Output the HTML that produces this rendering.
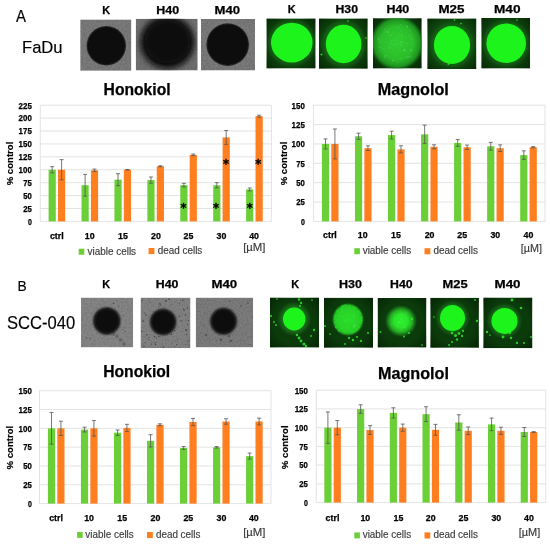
<!DOCTYPE html>
<html lang="en"><head><meta charset="utf-8"><title>Figure</title>
<style>
html,body{margin:0;padding:0;background:#fff;}
body{width:550px;height:545px;overflow:hidden;}
svg{display:block;font-family:"Liberation Sans",sans-serif;}
</style></head><body>
<svg width="550" height="545" viewBox="0 0 550 545">
<defs>
<filter id="noise" x="0" y="0" width="100%" height="100%">
  <feTurbulence type="fractalNoise" baseFrequency="0.55" numOctaves="2" seed="3" result="t"/>
  <feColorMatrix in="t" type="matrix" values="0 0 0 0 0  0 0 0 0 0  0 0 0 0 0  0.9 0 0 0 -0.35" result="a"/>
  <feComposite in="a" in2="SourceGraphic" operator="in"/>
</filter>
<filter id="b1" x="-20%" y="-20%" width="140%" height="140%"><feGaussianBlur stdDeviation="0.7"/></filter>
<filter id="b15" x="-20%" y="-20%" width="140%" height="140%"><feGaussianBlur stdDeviation="1.1"/></filter>
<filter id="b2" x="-30%" y="-30%" width="160%" height="160%"><feGaussianBlur stdDeviation="1.6"/></filter>
<filter id="b3" x="-40%" y="-40%" width="180%" height="180%"><feGaussianBlur stdDeviation="3.2"/></filter>
<filter id="speck" x="0" y="0" width="100%" height="100%">
  <feTurbulence type="fractalNoise" baseFrequency="0.32" numOctaves="2" seed="11" result="t"/>
  <feColorMatrix in="t" type="matrix" values="0 0 0 0 0.45  0 0 0 0 1  0 0 0 0 0.45  0 4 0 0 -2.45" result="a"/>
  <feComposite in="a" in2="SourceGraphic" operator="in"/>
</filter>
<radialGradient id="vig" r="0.72"><stop offset="0.6" stop-color="#041c04" stop-opacity="0"/><stop offset="1" stop-color="#041c04" stop-opacity="0.75"/></radialGradient>
<radialGradient id="halo"><stop offset="0.65" stop-color="#1b741b" stop-opacity="1"/><stop offset="1" stop-color="#1b741b" stop-opacity="0"/></radialGradient>
<radialGradient id="texg"><stop offset="0" stop-color="#30cc30"/><stop offset="0.6" stop-color="#2bbe2b"/><stop offset="0.85" stop-color="#209820" stop-opacity="0.95"/><stop offset="1" stop-color="#167016" stop-opacity="0"/></radialGradient>
<radialGradient id="blobg"><stop offset="0" stop-color="#2ade2a"/><stop offset="0.7" stop-color="#27d227"/><stop offset="0.88" stop-color="#22b422" stop-opacity="0.95"/><stop offset="1" stop-color="#1a801a" stop-opacity="0"/></radialGradient>
<radialGradient id="fuzzg"><stop offset="0" stop-color="#2cf02c"/><stop offset="0.45" stop-color="#2ae42a"/><stop offset="0.72" stop-color="#24b424" stop-opacity="0.9"/><stop offset="1" stop-color="#1a801a" stop-opacity="0"/></radialGradient>
<radialGradient id="gbg"><stop offset="0" stop-color="#1a6a1a"/><stop offset="0.7" stop-color="#0f4a10"/><stop offset="1" stop-color="#092f0a"/></radialGradient>
<radialGradient id="gsph"><stop offset="0" stop-color="#33f233"/><stop offset="0.85" stop-color="#2ff52f"/><stop offset="1" stop-color="#25d525"/></radialGradient>
</defs>
<rect width="550" height="545" fill="#fff"/>

<text x="15.9" y="21.5" font-size="16.2" font-weight="normal" text-anchor="start" fill="#000000" stroke="#000000" stroke-width="0.15" textLength="10.0" lengthAdjust="spacingAndGlyphs">A</text>
<text x="22.0" y="52.7" font-size="16.2" font-weight="normal" text-anchor="start" fill="#000000" stroke="#000000" stroke-width="0.15" textLength="40.6" lengthAdjust="spacingAndGlyphs">FaDu</text>
<text x="17.4" y="290.6" font-size="15.4" font-weight="normal" text-anchor="start" fill="#000000" stroke="#000000" stroke-width="0.15" textLength="9.2" lengthAdjust="spacingAndGlyphs">B</text>
<text x="7.0" y="328.5" font-size="19.2" font-weight="normal" text-anchor="start" fill="#000000" stroke="#000000" stroke-width="0.15" textLength="68.2" lengthAdjust="spacingAndGlyphs">SCC-040</text>
<text x="106.3" y="14.0" font-size="10.9" font-weight="bold" text-anchor="middle" fill="#000000" stroke="#000000" stroke-width="0.25">K</text>
<text x="156.2" y="14.0" font-size="11.3" font-weight="bold" text-anchor="start" fill="#000000" stroke="#000000" stroke-width="0.25" textLength="22.9" lengthAdjust="spacingAndGlyphs">H40</text>
<text x="214.5" y="14.0" font-size="11.3" font-weight="bold" text-anchor="start" fill="#000000" stroke="#000000" stroke-width="0.25" textLength="25.5" lengthAdjust="spacingAndGlyphs">M40</text>
<text x="291.6" y="12.7" font-size="10.9" font-weight="bold" text-anchor="middle" fill="#000000" stroke="#000000" stroke-width="0.25">K</text>
<text x="335.5" y="12.5" font-size="11.3" font-weight="bold" text-anchor="start" fill="#000000" stroke="#000000" stroke-width="0.25" textLength="22.5" lengthAdjust="spacingAndGlyphs">H30</text>
<text x="386.4" y="12.5" font-size="11.3" font-weight="bold" text-anchor="start" fill="#000000" stroke="#000000" stroke-width="0.25" textLength="22.9" lengthAdjust="spacingAndGlyphs">H40</text>
<text x="438.4" y="12.5" font-size="11.3" font-weight="bold" text-anchor="start" fill="#000000" stroke="#000000" stroke-width="0.25" textLength="26.0" lengthAdjust="spacingAndGlyphs">M25</text>
<text x="494.0" y="12.5" font-size="11.3" font-weight="bold" text-anchor="start" fill="#000000" stroke="#000000" stroke-width="0.25" textLength="26.5" lengthAdjust="spacingAndGlyphs">M40</text>
<text x="106.3" y="288.3" font-size="10.9" font-weight="bold" text-anchor="middle" fill="#000000" stroke="#000000" stroke-width="0.25">K</text>
<text x="155.8" y="288.4" font-size="11.3" font-weight="bold" text-anchor="start" fill="#000000" stroke="#000000" stroke-width="0.25" textLength="22.7" lengthAdjust="spacingAndGlyphs">H40</text>
<text x="211.4" y="288.4" font-size="11.3" font-weight="bold" text-anchor="start" fill="#000000" stroke="#000000" stroke-width="0.25" textLength="25.8" lengthAdjust="spacingAndGlyphs">M40</text>
<text x="295.3" y="287.9" font-size="10.9" font-weight="bold" text-anchor="middle" fill="#000000" stroke="#000000" stroke-width="0.25">K</text>
<text x="339.0" y="287.9" font-size="11.3" font-weight="bold" text-anchor="start" fill="#000000" stroke="#000000" stroke-width="0.25" textLength="22.9" lengthAdjust="spacingAndGlyphs">H30</text>
<text x="390.0" y="287.9" font-size="11.3" font-weight="bold" text-anchor="start" fill="#000000" stroke="#000000" stroke-width="0.25" textLength="22.6" lengthAdjust="spacingAndGlyphs">H40</text>
<text x="442.5" y="287.9" font-size="11.3" font-weight="bold" text-anchor="start" fill="#000000" stroke="#000000" stroke-width="0.25" textLength="25.1" lengthAdjust="spacingAndGlyphs">M25</text>
<text x="494.5" y="287.8" font-size="11.3" font-weight="bold" text-anchor="start" fill="#000000" stroke="#000000" stroke-width="0.25" textLength="26.0" lengthAdjust="spacingAndGlyphs">M40</text>
<clipPath id="ca1"><rect x="80.2" y="19.4" width="51.2" height="51.4"/></clipPath>
<g clip-path="url(#ca1)">
<rect x="80.2" y="19.4" width="51.2" height="51.4" fill="#7a7a7a"/>
<rect x="80.2" y="19.4" width="51.2" height="51.4" fill="#555555" filter="url(#noise)" opacity="0.32"/>
<circle cx="106.3" cy="45.8" r="19.7" fill="#262626" filter="url(#b1)"/>
<circle cx="106.3" cy="45.8" r="18.7" fill="#111111" filter="url(#b1)"/>
</g>
<clipPath id="ca2"><rect x="135.7" y="18.8" width="62.0" height="51.7"/></clipPath>
<g clip-path="url(#ca2)">
<rect x="135.7" y="18.8" width="62.0" height="51.7" fill="#707070"/>
<rect x="135.7" y="18.8" width="62.0" height="51.7" fill="#555555" filter="url(#noise)" opacity="0.32"/>
<ellipse cx="167.2" cy="42.5" rx="26.5" ry="26.0" fill="#0a0a0a" filter="url(#b3)"/>
<ellipse cx="167.7" cy="41.5" rx="23.0" ry="22.0" fill="#0a0a0a" filter="url(#b3)"/>
</g>
<clipPath id="ca3"><rect x="201.0" y="18.9" width="54.0" height="51.6"/></clipPath>
<g clip-path="url(#ca3)">
<rect x="201.0" y="18.9" width="54.0" height="51.6" fill="#7a7a7a"/>
<rect x="201.0" y="18.9" width="54.0" height="51.6" fill="#555555" filter="url(#noise)" opacity="0.32"/>
<circle cx="227.7" cy="44.6" r="21.3" fill="#262626" filter="url(#b1)"/>
<circle cx="227.7" cy="44.6" r="20.3" fill="#111111" filter="url(#b1)"/>
</g>
<clipPath id="cb1"><rect x="81.0" y="297.6" width="52.2" height="49.8"/></clipPath>
<g clip-path="url(#cb1)">
<rect x="81.0" y="297.6" width="52.2" height="49.8" fill="#858585"/>
<rect x="81.0" y="297.6" width="52.2" height="49.8" fill="#555555" filter="url(#noise)" opacity="0.32"/>
<g fill="#1a1a1a"><circle cx="122.8" cy="329.4" r="0.56" opacity="0.4"/><circle cx="99.4" cy="329.3" r="0.55" opacity="0.4"/><circle cx="123.4" cy="315.5" r="0.57" opacity="0.4"/><circle cx="125.5" cy="331.4" r="0.6" opacity="0.4"/><circle cx="129.8" cy="323.4" r="0.51" opacity="0.4"/><circle cx="90.3" cy="338.3" r="0.59" opacity="0.4"/><circle cx="105.9" cy="331.5" r="0.54" opacity="0.4"/><circle cx="118.5" cy="307.1" r="0.56" opacity="0.4"/><circle cx="111.0" cy="330.3" r="0.48" opacity="0.4"/><circle cx="113.2" cy="335.4" r="0.53" opacity="0.4"/><circle cx="118.0" cy="300.3" r="0.43" opacity="0.4"/><circle cx="104.1" cy="329.6" r="0.44" opacity="0.4"/><circle cx="116.3" cy="328.7" r="0.41" opacity="0.4"/><circle cx="105.6" cy="309.6" r="0.41" opacity="0.4"/><circle cx="117" cy="336" r="1.6" opacity="0.3"/><circle cx="120.5" cy="340" r="1.8" opacity="0.3"/><circle cx="124" cy="344" r="1.8" opacity="0.3"/><circle cx="114" cy="333.5" r="1.4" opacity="0.3"/><circle cx="113.5" cy="303.5" r="0.8" opacity="0.6"/><circle cx="94" cy="321" r="0.6" opacity="0.5"/><circle cx="87" cy="338" r="0.7" opacity="0.4"/></g>
<circle cx="106.8" cy="320.9" r="13.5" fill="#262626" filter="url(#b15)"/>
<circle cx="106.8" cy="320.9" r="12.5" fill="#0e0e0e" filter="url(#b15)"/>
</g>
<clipPath id="cb2"><rect x="140.5" y="297.6" width="50.0" height="50.6"/></clipPath>
<g clip-path="url(#cb2)">
<rect x="140.5" y="297.6" width="50.0" height="50.6" fill="#828282"/>
<rect x="140.5" y="297.6" width="50.0" height="50.6" fill="#555555" filter="url(#noise)" opacity="0.32"/>
<g fill="#1a1a1a"><circle cx="171.4" cy="334.5" r="0.73" opacity="0.55"/><circle cx="186.7" cy="334.4" r="0.77" opacity="0.55"/><circle cx="142.9" cy="321.1" r="0.78" opacity="0.55"/><circle cx="172.7" cy="342.2" r="0.49" opacity="0.55"/><circle cx="169.0" cy="299.1" r="0.53" opacity="0.55"/><circle cx="154.9" cy="342.9" r="0.72" opacity="0.55"/><circle cx="149.2" cy="337.2" r="0.5" opacity="0.55"/><circle cx="171.1" cy="304.6" r="0.45" opacity="0.55"/><circle cx="183.3" cy="308.7" r="0.53" opacity="0.55"/><circle cx="188.7" cy="340.8" r="0.55" opacity="0.55"/><circle cx="187.7" cy="324.7" r="0.69" opacity="0.55"/><circle cx="151.3" cy="344.1" r="0.69" opacity="0.55"/><circle cx="187.9" cy="341.8" r="0.55" opacity="0.55"/><circle cx="158.8" cy="306.5" r="0.5" opacity="0.55"/><circle cx="144.6" cy="313.1" r="0.66" opacity="0.55"/><circle cx="141.7" cy="331.4" r="0.57" opacity="0.55"/><circle cx="156.4" cy="338.2" r="0.62" opacity="0.55"/><circle cx="144.2" cy="345.8" r="0.46" opacity="0.55"/><circle cx="177.5" cy="339.5" r="0.46" opacity="0.55"/><circle cx="179.3" cy="316.3" r="0.65" opacity="0.55"/><circle cx="141.9" cy="300.8" r="0.51" opacity="0.55"/><circle cx="187.3" cy="308.0" r="0.71" opacity="0.55"/><circle cx="186.1" cy="344.2" r="0.57" opacity="0.55"/><circle cx="146.7" cy="334.8" r="0.73" opacity="0.55"/><circle cx="182.8" cy="300.3" r="0.78" opacity="0.55"/><circle cx="145.9" cy="315.0" r="0.66" opacity="0.55"/><circle cx="185.6" cy="315.0" r="0.77" opacity="0.55"/><circle cx="150.0" cy="302.3" r="0.5" opacity="0.55"/><circle cx="174.6" cy="346.8" r="0.51" opacity="0.55"/><circle cx="143.8" cy="346.4" r="0.64" opacity="0.55"/><circle cx="181.2" cy="320.6" r="0.6" opacity="0.55"/><circle cx="144.2" cy="342.9" r="0.46" opacity="0.55"/><circle cx="165.2" cy="339.2" r="0.5" opacity="0.55"/><circle cx="176.6" cy="344.6" r="0.67" opacity="0.55"/><circle cx="179.3" cy="303.7" r="0.6" opacity="0.55"/><circle cx="148.7" cy="339.5" r="0.55" opacity="0.55"/><circle cx="163.3" cy="347.0" r="0.75" opacity="0.55"/><circle cx="188.3" cy="320.5" r="0.62" opacity="0.55"/><circle cx="160.9" cy="305.6" r="0.58" opacity="0.55"/><circle cx="188.9" cy="345.1" r="0.67" opacity="0.55"/><circle cx="154.6" cy="336.4" r="0.75" opacity="0.55"/><circle cx="158.8" cy="336.6" r="0.72" opacity="0.55"/><circle cx="174.8" cy="330.7" r="0.72" opacity="0.55"/><circle cx="155.6" cy="344.4" r="0.68" opacity="0.55"/><circle cx="169.4" cy="299.1" r="0.64" opacity="0.55"/><circle cx="166" cy="301" r="1.0" opacity="0.5"/><circle cx="160" cy="304" r="0.9" opacity="0.5"/><circle cx="184" cy="310" r="0.8" opacity="0.6"/><circle cx="186" cy="330" r="0.9" opacity="0.6"/></g>
<circle cx="163.1" cy="322.0" r="13.0" fill="#262626" filter="url(#b15)"/>
<circle cx="163.1" cy="322.0" r="12.0" fill="#0e0e0e" filter="url(#b15)"/>
</g>
<clipPath id="cb3"><rect x="195.7" y="297.6" width="57.5" height="49.8"/></clipPath>
<g clip-path="url(#cb3)">
<rect x="195.7" y="297.6" width="57.5" height="49.8" fill="#7c7c7c"/>
<rect x="195.7" y="297.6" width="57.5" height="49.8" fill="#555555" filter="url(#noise)" opacity="0.32"/>
<g fill="#1a1a1a"><circle cx="204.3" cy="313.9" r="0.44" opacity="0.35"/><circle cx="207.6" cy="300.7" r="0.49" opacity="0.35"/><circle cx="217.9" cy="327.8" r="0.52" opacity="0.35"/><circle cx="210.1" cy="341.4" r="0.4" opacity="0.35"/><circle cx="219.3" cy="312.1" r="0.48" opacity="0.35"/><circle cx="203.3" cy="338.1" r="0.47" opacity="0.35"/><circle cx="199.0" cy="327.8" r="0.42" opacity="0.35"/><circle cx="227.0" cy="315.0" r="0.52" opacity="0.35"/><circle cx="249.7" cy="337.5" r="0.48" opacity="0.35"/><circle cx="241.7" cy="329.2" r="0.47" opacity="0.35"/><circle cx="204.8" cy="327.0" r="0.51" opacity="0.35"/><circle cx="249.6" cy="344.5" r="0.52" opacity="0.35"/><circle cx="216.3" cy="341.0" r="0.4" opacity="0.35"/><circle cx="202.9" cy="325.6" r="0.52" opacity="0.35"/><circle cx="206" cy="335" r="1.2" opacity="0.35"/><circle cx="221" cy="340" r="1.4" opacity="0.35"/><circle cx="229" cy="336" r="1.2" opacity="0.35"/><circle cx="231" cy="341" r="1.2" opacity="0.35"/><circle cx="241" cy="306" r="1.0" opacity="0.3"/><circle cx="248" cy="303" r="0.9" opacity="0.3"/><circle cx="230" cy="301" r="1.0" opacity="0.3"/></g>
<circle cx="223.5" cy="321.3" r="13.2" fill="#262626" filter="url(#b15)"/>
<circle cx="223.5" cy="321.3" r="12.2" fill="#0e0e0e" filter="url(#b15)"/>
</g>
<clipPath id="cg1"><rect x="266.4" y="18.4" width="49.2" height="50.1"/></clipPath>
<g clip-path="url(#cg1)">
<rect x="266.4" y="18.4" width="49.2" height="50.1" fill="#0d420d"/>
<rect x="266.4" y="18.4" width="49.2" height="50.1" fill="url(#vig)"/>
<ellipse cx="291.8" cy="42.6" rx="25.8" ry="24.8" fill="url(#halo)"/>
<ellipse cx="291.8" cy="42.6" rx="20.8" ry="19.8" fill="#1ef41e" filter="url(#b1)"/>
</g>
<clipPath id="cg2"><rect x="318.9" y="18.4" width="48.8" height="50.3"/></clipPath>
<g clip-path="url(#cg2)">
<rect x="318.9" y="18.4" width="48.8" height="50.3" fill="#0d420d"/>
<rect x="318.9" y="18.4" width="48.8" height="50.3" fill="url(#vig)"/>
<ellipse cx="343.6" cy="44.0" rx="23.8" ry="25.2" fill="url(#halo)"/>
<ellipse cx="343.6" cy="44.0" rx="17.8" ry="19.2" fill="#1ef41e" filter="url(#b1)"/>
<g fill="#2fe82f" opacity="0.85"><circle cx="321.5" cy="54.5" r="1.05"/><circle cx="348" cy="21" r="0.85"/><circle cx="366" cy="38" r="0.85"/></g>
</g>
<clipPath id="cg3"><rect x="373.0" y="18.2" width="48.7" height="50.3"/></clipPath>
<g clip-path="url(#cg3)">
<rect x="373.0" y="18.2" width="48.7" height="50.3" fill="#0d420d"/>
<rect x="373.0" y="18.2" width="48.7" height="50.3" fill="url(#vig)"/>
<ellipse cx="397.0" cy="43.0" rx="27.0" ry="27.5" fill="url(#halo)"/>
<ellipse cx="397.0" cy="43.0" rx="27.0" ry="27.5" fill="url(#texg)"/>
<g filter="url(#b1)" opacity="0.3"><ellipse cx="397.0" cy="43.0" rx="20.0" ry="20.5" fill="#7cff7c" filter="url(#speck)"/></g>
</g>
<clipPath id="cg4"><rect x="427.3" y="18.4" width="49.1" height="50.6"/></clipPath>
<g clip-path="url(#cg4)">
<rect x="427.3" y="18.4" width="49.1" height="50.6" fill="#0f480f"/>
<rect x="427.3" y="18.4" width="49.1" height="50.6" fill="url(#vig)"/>
<ellipse cx="452.0" cy="45.0" rx="23.1" ry="24.0" fill="url(#halo)"/>
<ellipse cx="452.0" cy="45.0" rx="18.1" ry="19.0" fill="#1ef41e" filter="url(#b1)"/>
<g fill="#2fe82f" opacity="0.85"><circle cx="454.5" cy="20" r="0.85"/><circle cx="461" cy="23.5" r="0.85"/><circle cx="448.5" cy="64" r="1.05"/></g>
</g>
<clipPath id="cg5"><rect x="481.3" y="18.0" width="48.8" height="50.5"/></clipPath>
<g clip-path="url(#cg5)">
<rect x="481.3" y="18.0" width="48.8" height="50.5" fill="#0e440e"/>
<rect x="481.3" y="18.0" width="48.8" height="50.5" fill="url(#vig)"/>
<ellipse cx="506.2" cy="43.3" rx="24.8" ry="24.7" fill="url(#halo)"/>
<ellipse cx="506.2" cy="43.3" rx="19.8" ry="19.7" fill="#1ef41e" filter="url(#b1)"/>
<g fill="#2fe82f" opacity="0.85"><circle cx="517" cy="20" r="0.85"/></g>
</g>
<clipPath id="ch1"><rect x="270.0" y="297.6" width="49.0" height="50.0"/></clipPath>
<g clip-path="url(#ch1)">
<rect x="270.0" y="297.6" width="49.0" height="50.0" fill="#0b3a0b"/>
<rect x="270.0" y="297.6" width="49.0" height="50.0" fill="url(#vig)"/>
<ellipse cx="294.2" cy="319.0" rx="17.2" ry="17.4" fill="url(#halo)"/>
<ellipse cx="294.2" cy="319.0" rx="11.2" ry="11.4" fill="#1ef41e" filter="url(#b1)"/>
<g fill="#2fe82f" opacity="0.85"><circle cx="299" cy="299.5" r="1.25"/><circle cx="301" cy="303" r="1.15"/><circle cx="300" cy="306" r="1.05"/><circle cx="297" cy="335" r="1.25"/><circle cx="299" cy="338" r="1.45"/><circle cx="301" cy="341" r="1.45"/><circle cx="304" cy="344" r="1.55"/><circle cx="306" cy="346" r="1.25"/><circle cx="271" cy="316" r="1.05"/><circle cx="274" cy="322" r="0.95"/><circle cx="276" cy="325" r="0.95"/><circle cx="314" cy="330" r="1.15"/><circle cx="311" cy="336" r="0.95"/><circle cx="277" cy="299" r="0.85"/><circle cx="312" cy="300" r="0.85"/></g>
</g>
<clipPath id="ch2"><rect x="324.0" y="297.7" width="49.0" height="50.0"/></clipPath>
<g clip-path="url(#ch2)">
<rect x="324.0" y="297.7" width="49.0" height="50.0" fill="#0b3a0b"/>
<rect x="324.0" y="297.7" width="49.0" height="50.0" fill="url(#vig)"/>
<ellipse cx="348.0" cy="319.5" rx="17.0" ry="17.5" fill="url(#halo)"/>
<ellipse cx="348.0" cy="319.5" rx="16.0" ry="16.5" fill="url(#blobg)"/>
<g filter="url(#b1)" fill="#26d026"><circle cx="360.9" cy="320.2" r="1.4"/><circle cx="360.2" cy="322.3" r="1.5"/><circle cx="358.8" cy="326.8" r="1.4"/><circle cx="357.0" cy="328.6" r="1.6"/><circle cx="355.7" cy="330.0" r="1.4"/><circle cx="353.1" cy="331.6" r="1.4"/><circle cx="350.5" cy="331.8" r="1.4"/><circle cx="345.4" cy="332.0" r="1.3"/><circle cx="343.5" cy="331.2" r="1.0"/><circle cx="339.2" cy="330.4" r="1.2"/><circle cx="339.6" cy="328.5" r="1.1"/><circle cx="336.5" cy="326.9" r="1.4"/><circle cx="336.1" cy="322.3" r="1.5"/><circle cx="335.3" cy="318.7" r="1.3"/><circle cx="335.2" cy="316.5" r="1.1"/><circle cx="336.6" cy="314.7" r="1.3"/><circle cx="338.1" cy="311.3" r="1.7"/><circle cx="341.9" cy="308.5" r="1.5"/><circle cx="342.9" cy="306.6" r="1.4"/><circle cx="345.2" cy="305.7" r="1.2"/><circle cx="349.3" cy="306.9" r="1.6"/><circle cx="353.4" cy="308.2" r="1.6"/><circle cx="355.8" cy="308.3" r="1.0"/><circle cx="358.0" cy="311.2" r="1.4"/><circle cx="359.1" cy="313.8" r="1.7"/><circle cx="361.1" cy="317.6" r="1.3"/></g>
<g filter="url(#b1)" opacity="0.22"><ellipse cx="348.0" cy="319.5" rx="12.0" ry="12.5" fill="#80ff80" filter="url(#speck)"/></g>
<g fill="#2fe82f" opacity="0.85"><circle cx="349" cy="338" r="1.15"/><circle cx="353" cy="340" r="1.25"/><circle cx="357" cy="337" r="1.05"/><circle cx="361" cy="341" r="1.15"/><circle cx="345" cy="344" r="0.95"/><circle cx="368" cy="333" r="1.05"/><circle cx="325" cy="326" r="0.95"/><circle cx="330" cy="334" r="0.85"/></g>
</g>
<clipPath id="ch3"><rect x="377.6" y="297.9" width="48.8" height="49.7"/></clipPath>
<g clip-path="url(#ch3)">
<rect x="377.6" y="297.9" width="48.8" height="49.7" fill="#0b3a0b"/>
<rect x="377.6" y="297.9" width="48.8" height="49.7" fill="url(#vig)"/>
<ellipse cx="401.0" cy="321.0" rx="16.5" ry="16.5" fill="url(#halo)"/>
<ellipse cx="401.0" cy="321.0" rx="15.5" ry="15.5" fill="url(#fuzzg)"/>
<g filter="url(#b1)" opacity="0.22"><ellipse cx="401.0" cy="321.0" rx="11.5" ry="11.5" fill="#80ff80" filter="url(#speck)"/></g>
<g fill="#2fe82f" opacity="0.85"><circle cx="380.5" cy="332" r="0.95"/><circle cx="404" cy="336.5" r="1.05"/><circle cx="409" cy="333" r="1.05"/><circle cx="412" cy="319" r="1.15"/><circle cx="422" cy="345" r="0.85"/></g>
</g>
<clipPath id="ch4"><rect x="430.3" y="297.8" width="48.6" height="50.0"/></clipPath>
<g clip-path="url(#ch4)">
<rect x="430.3" y="297.8" width="48.6" height="50.0" fill="#0b3a0b"/>
<rect x="430.3" y="297.8" width="48.6" height="50.0" fill="url(#vig)"/>
<ellipse cx="452.5" cy="318.0" rx="17.5" ry="18.0" fill="url(#halo)"/>
<ellipse cx="452.5" cy="318.0" rx="12.5" ry="13.0" fill="#1ef41e" filter="url(#b1)"/>
<g fill="#2fe82f" opacity="0.85"><circle cx="452" cy="333" r="1.35"/><circle cx="455.5" cy="335.5" r="1.55"/><circle cx="459" cy="333.5" r="1.45"/><circle cx="462" cy="336" r="1.15"/><circle cx="457" cy="339.5" r="1.25"/><circle cx="452" cy="342" r="1.05"/><circle cx="463" cy="331" r="1.15"/><circle cx="449" cy="345" r="0.95"/><circle cx="475" cy="300" r="0.95"/><circle cx="477" cy="321" r="1.15"/><circle cx="434" cy="317" r="0.85"/></g>
</g>
<clipPath id="ch5"><rect x="483.3" y="297.6" width="49.1" height="50.6"/></clipPath>
<g clip-path="url(#ch5)">
<rect x="483.3" y="297.6" width="49.1" height="50.6" fill="#0b3a0b"/>
<rect x="483.3" y="297.6" width="49.1" height="50.6" fill="url(#vig)"/>
<ellipse cx="504.5" cy="320.9" rx="18.0" ry="18.0" fill="url(#halo)"/>
<ellipse cx="504.5" cy="320.9" rx="13.0" ry="13.0" fill="#1ef41e" filter="url(#b1)"/>
<g fill="#2fe82f" opacity="0.85"><circle cx="512" cy="300" r="1.45"/><circle cx="521" cy="308" r="1.35"/><circle cx="487" cy="332" r="1.25"/><circle cx="503" cy="337" r="1.45"/><circle cx="510" cy="333" r="1.15"/><circle cx="511" cy="338" r="1.25"/><circle cx="517" cy="343" r="1.15"/><circle cx="524" cy="343" r="1.05"/><circle cx="531" cy="337" r="0.95"/><circle cx="490" cy="335" r="0.85"/></g>
</g>
<line x1="40.3" y1="221.40" x2="271.4" y2="221.40" stroke="#dcdcdc" stroke-width="0.8"/>
<text x="31.8" y="224.70" font-size="8.6" font-weight="bold" text-anchor="end" fill="#000000" stroke="#000000" stroke-width="0.25" textLength="3.9" lengthAdjust="spacingAndGlyphs">0</text>
<line x1="40.3" y1="208.49" x2="271.4" y2="208.49" stroke="#dcdcdc" stroke-width="0.8"/>
<text x="31.8" y="211.79" font-size="8.6" font-weight="bold" text-anchor="end" fill="#000000" stroke="#000000" stroke-width="0.25" textLength="8.6" lengthAdjust="spacingAndGlyphs">25</text>
<line x1="40.3" y1="195.58" x2="271.4" y2="195.58" stroke="#dcdcdc" stroke-width="0.8"/>
<text x="31.8" y="198.88" font-size="8.6" font-weight="bold" text-anchor="end" fill="#000000" stroke="#000000" stroke-width="0.25" textLength="8.6" lengthAdjust="spacingAndGlyphs">50</text>
<line x1="40.3" y1="182.67" x2="271.4" y2="182.67" stroke="#dcdcdc" stroke-width="0.8"/>
<text x="31.8" y="185.97" font-size="8.6" font-weight="bold" text-anchor="end" fill="#000000" stroke="#000000" stroke-width="0.25" textLength="8.6" lengthAdjust="spacingAndGlyphs">75</text>
<line x1="40.3" y1="169.76" x2="271.4" y2="169.76" stroke="#dcdcdc" stroke-width="0.8"/>
<text x="31.8" y="173.06" font-size="8.6" font-weight="bold" text-anchor="end" fill="#000000" stroke="#000000" stroke-width="0.25" textLength="13.2" lengthAdjust="spacingAndGlyphs">100</text>
<line x1="40.3" y1="156.84" x2="271.4" y2="156.84" stroke="#dcdcdc" stroke-width="0.8"/>
<text x="31.8" y="160.14" font-size="8.6" font-weight="bold" text-anchor="end" fill="#000000" stroke="#000000" stroke-width="0.25" textLength="13.2" lengthAdjust="spacingAndGlyphs">125</text>
<line x1="40.3" y1="143.93" x2="271.4" y2="143.93" stroke="#dcdcdc" stroke-width="0.8"/>
<text x="31.8" y="147.23" font-size="8.6" font-weight="bold" text-anchor="end" fill="#000000" stroke="#000000" stroke-width="0.25" textLength="13.2" lengthAdjust="spacingAndGlyphs">150</text>
<line x1="40.3" y1="131.02" x2="271.4" y2="131.02" stroke="#dcdcdc" stroke-width="0.8"/>
<text x="31.8" y="134.32" font-size="8.6" font-weight="bold" text-anchor="end" fill="#000000" stroke="#000000" stroke-width="0.25" textLength="13.2" lengthAdjust="spacingAndGlyphs">175</text>
<line x1="40.3" y1="118.11" x2="271.4" y2="118.11" stroke="#dcdcdc" stroke-width="0.8"/>
<text x="31.8" y="121.41" font-size="8.6" font-weight="bold" text-anchor="end" fill="#000000" stroke="#000000" stroke-width="0.25" textLength="13.2" lengthAdjust="spacingAndGlyphs">200</text>
<line x1="40.3" y1="105.20" x2="271.4" y2="105.20" stroke="#dcdcdc" stroke-width="0.8"/>
<text x="31.8" y="108.50" font-size="8.6" font-weight="bold" text-anchor="end" fill="#000000" stroke="#000000" stroke-width="0.25" textLength="13.2" lengthAdjust="spacingAndGlyphs">225</text>
<line x1="40.3" y1="105.2" x2="40.3" y2="221.4" stroke="#dcdcdc" stroke-width="0.8"/>
<line x1="271.4" y1="105.2" x2="271.4" y2="221.4" stroke="#dcdcdc" stroke-width="0.8"/>
<rect x="48.60" y="169.76" width="7.2" height="51.64" fill="#6bd038"/>
<rect x="58.00" y="169.76" width="7.2" height="51.64" fill="#ff7e20"/>
<path d="M52.20 166.66V172.85M50.20 166.66H54.20M50.20 172.85H54.20" stroke="#555555" stroke-width="0.8" fill="none"/>
<path d="M61.60 159.63V179.88M59.60 159.63H63.60M59.60 179.88H63.60" stroke="#555555" stroke-width="0.8" fill="none"/>
<rect x="81.52" y="185.25" width="7.2" height="36.15" fill="#6bd038"/>
<rect x="90.92" y="170.27" width="7.2" height="51.13" fill="#ff7e20"/>
<path d="M85.12 174.40V196.09M83.12 174.40H87.12M83.12 196.09H87.12" stroke="#555555" stroke-width="0.8" fill="none"/>
<path d="M94.52 169.08V171.46M92.52 169.08H96.52M92.52 171.46H96.52" stroke="#555555" stroke-width="0.8" fill="none"/>
<rect x="114.44" y="179.67" width="7.2" height="41.73" fill="#6bd038"/>
<rect x="123.84" y="169.76" width="7.2" height="51.64" fill="#ff7e20"/>
<path d="M118.04 173.68V185.66M116.04 173.68H120.04M116.04 185.66H120.04" stroke="#555555" stroke-width="0.8" fill="none"/>
<path d="M127.44 169.50V170.01M125.44 169.50H129.44M125.44 170.01H129.44" stroke="#555555" stroke-width="0.8" fill="none"/>
<rect x="147.36" y="180.08" width="7.2" height="41.32" fill="#6bd038"/>
<rect x="156.76" y="166.30" width="7.2" height="55.10" fill="#ff7e20"/>
<path d="M150.96 176.99V183.18M148.96 176.99H152.96M148.96 183.18H152.96" stroke="#555555" stroke-width="0.8" fill="none"/>
<path d="M160.36 165.78V166.81M158.36 165.78H162.36M158.36 166.81H162.36" stroke="#555555" stroke-width="0.8" fill="none"/>
<rect x="180.28" y="185.15" width="7.2" height="36.25" fill="#6bd038"/>
<rect x="189.68" y="154.88" width="7.2" height="66.52" fill="#ff7e20"/>
<path d="M183.88 183.34V186.95M181.88 183.34H185.88M181.88 186.95H185.88" stroke="#555555" stroke-width="0.8" fill="none"/>
<path d="M193.28 154.06V155.71M191.28 154.06H195.28M191.28 155.71H195.28" stroke="#555555" stroke-width="0.8" fill="none"/>
<rect x="213.20" y="185.25" width="7.2" height="36.15" fill="#6bd038"/>
<rect x="222.60" y="137.43" width="7.2" height="83.97" fill="#ff7e20"/>
<path d="M216.80 182.67V187.83M214.80 182.67H218.80M214.80 187.83H218.80" stroke="#555555" stroke-width="0.8" fill="none"/>
<path d="M226.20 130.51V144.35M224.20 130.51H228.20M224.20 144.35H228.20" stroke="#555555" stroke-width="0.8" fill="none"/>
<rect x="246.12" y="189.43" width="7.2" height="31.97" fill="#6bd038"/>
<rect x="255.52" y="116.20" width="7.2" height="105.20" fill="#ff7e20"/>
<path d="M249.72 187.99V190.88M247.72 187.99H251.72M247.72 190.88H251.72" stroke="#555555" stroke-width="0.8" fill="none"/>
<path d="M259.12 115.17V117.23M257.12 115.17H261.12M257.12 117.23H261.12" stroke="#555555" stroke-width="0.8" fill="none"/>
<text x="56.8" y="238.6" font-size="8.9" font-weight="bold" text-anchor="middle" fill="#000000" stroke="#000000" stroke-width="0.25" textLength="13.8" lengthAdjust="spacingAndGlyphs">ctrl</text>
<text x="89.7" y="238.6" font-size="8.9" font-weight="bold" text-anchor="middle" fill="#000000" stroke="#000000" stroke-width="0.25" textLength="9.8" lengthAdjust="spacingAndGlyphs">10</text>
<text x="123.0" y="238.6" font-size="8.9" font-weight="bold" text-anchor="middle" fill="#000000" stroke="#000000" stroke-width="0.25" textLength="9.8" lengthAdjust="spacingAndGlyphs">15</text>
<text x="155.9" y="238.6" font-size="8.9" font-weight="bold" text-anchor="middle" fill="#000000" stroke="#000000" stroke-width="0.25" textLength="9.8" lengthAdjust="spacingAndGlyphs">20</text>
<text x="188.5" y="238.6" font-size="8.9" font-weight="bold" text-anchor="middle" fill="#000000" stroke="#000000" stroke-width="0.25" textLength="9.8" lengthAdjust="spacingAndGlyphs">25</text>
<text x="221.4" y="238.6" font-size="8.9" font-weight="bold" text-anchor="middle" fill="#000000" stroke="#000000" stroke-width="0.25" textLength="9.8" lengthAdjust="spacingAndGlyphs">30</text>
<text x="254.1" y="238.6" font-size="8.9" font-weight="bold" text-anchor="middle" fill="#000000" stroke="#000000" stroke-width="0.25" textLength="9.8" lengthAdjust="spacingAndGlyphs">40</text>
<text x="103.6" y="95.3" font-size="15.6" font-weight="bold" text-anchor="start" fill="#000000" stroke="#000000" stroke-width="0.25" textLength="67" lengthAdjust="spacingAndGlyphs">Honokiol</text>
<text transform="translate(13.0 163.5) rotate(-90)" font-size="9.6" font-weight="bold" text-anchor="middle" stroke="#000" stroke-width="0.2" textLength="43.7" lengthAdjust="spacingAndGlyphs">% control</text>
<rect x="78.7" y="248.7" width="5.6" height="6" fill="#6bd038"/>
<text x="87.6" y="254.6" font-size="10.2" font-weight="normal" text-anchor="start" fill="#3a3a3a" stroke="#3a3a3a" stroke-width="0.15" textLength="48.5" lengthAdjust="spacingAndGlyphs">viable cells</text>
<rect x="148.6" y="248.0" width="5.8" height="6.1" fill="#ff7e20"/>
<text x="157.8" y="254.3" font-size="10.2" font-weight="normal" text-anchor="start" fill="#3a3a3a" stroke="#3a3a3a" stroke-width="0.15" textLength="44.5" lengthAdjust="spacingAndGlyphs">dead cells</text>
<text x="243.2" y="250.6" font-size="10.0" font-weight="normal" text-anchor="start" fill="#3a3a3a" stroke="#3a3a3a" stroke-width="0.15" textLength="22.3" lengthAdjust="spacingAndGlyphs">[µM]</text>
<text x="183.6" y="211.9" stroke="#000" stroke-width="0.35" font-size="11.5" font-weight="bold" text-anchor="middle" font-family="'DejaVu Sans',sans-serif">*</text>
<text x="216.1" y="211.9" stroke="#000" stroke-width="0.35" font-size="11.5" font-weight="bold" text-anchor="middle" font-family="'DejaVu Sans',sans-serif">*</text>
<text x="226.1" y="167.5" stroke="#000" stroke-width="0.35" font-size="11.5" font-weight="bold" text-anchor="middle" font-family="'DejaVu Sans',sans-serif">*</text>
<text x="249.7" y="211.9" stroke="#000" stroke-width="0.35" font-size="11.5" font-weight="bold" text-anchor="middle" font-family="'DejaVu Sans',sans-serif">*</text>
<text x="258.3" y="167.5" stroke="#000" stroke-width="0.35" font-size="11.5" font-weight="bold" text-anchor="middle" font-family="'DejaVu Sans',sans-serif">*</text>
<line x1="313.6" y1="221.40" x2="545.0" y2="221.40" stroke="#dcdcdc" stroke-width="0.8"/>
<text x="304.8" y="224.70" font-size="8.6" font-weight="bold" text-anchor="end" fill="#000000" stroke="#000000" stroke-width="0.25" textLength="3.9" lengthAdjust="spacingAndGlyphs">0</text>
<line x1="313.6" y1="202.03" x2="545.0" y2="202.03" stroke="#dcdcdc" stroke-width="0.8"/>
<text x="304.8" y="205.33" font-size="8.6" font-weight="bold" text-anchor="end" fill="#000000" stroke="#000000" stroke-width="0.25" textLength="8.6" lengthAdjust="spacingAndGlyphs">25</text>
<line x1="313.6" y1="182.67" x2="545.0" y2="182.67" stroke="#dcdcdc" stroke-width="0.8"/>
<text x="304.8" y="185.97" font-size="8.6" font-weight="bold" text-anchor="end" fill="#000000" stroke="#000000" stroke-width="0.25" textLength="8.6" lengthAdjust="spacingAndGlyphs">50</text>
<line x1="313.6" y1="163.30" x2="545.0" y2="163.30" stroke="#dcdcdc" stroke-width="0.8"/>
<text x="304.8" y="166.60" font-size="8.6" font-weight="bold" text-anchor="end" fill="#000000" stroke="#000000" stroke-width="0.25" textLength="8.6" lengthAdjust="spacingAndGlyphs">75</text>
<line x1="313.6" y1="143.93" x2="545.0" y2="143.93" stroke="#dcdcdc" stroke-width="0.8"/>
<text x="304.8" y="147.23" font-size="8.6" font-weight="bold" text-anchor="end" fill="#000000" stroke="#000000" stroke-width="0.25" textLength="13.2" lengthAdjust="spacingAndGlyphs">100</text>
<line x1="313.6" y1="124.57" x2="545.0" y2="124.57" stroke="#dcdcdc" stroke-width="0.8"/>
<text x="304.8" y="127.87" font-size="8.6" font-weight="bold" text-anchor="end" fill="#000000" stroke="#000000" stroke-width="0.25" textLength="13.2" lengthAdjust="spacingAndGlyphs">125</text>
<line x1="313.6" y1="105.20" x2="545.0" y2="105.20" stroke="#dcdcdc" stroke-width="0.8"/>
<text x="304.8" y="108.50" font-size="8.6" font-weight="bold" text-anchor="end" fill="#000000" stroke="#000000" stroke-width="0.25" textLength="13.2" lengthAdjust="spacingAndGlyphs">150</text>
<line x1="313.6" y1="105.2" x2="313.6" y2="221.4" stroke="#dcdcdc" stroke-width="0.8"/>
<line x1="545.0" y1="105.2" x2="545.0" y2="221.4" stroke="#dcdcdc" stroke-width="0.8"/>
<rect x="321.90" y="143.93" width="7.2" height="77.47" fill="#6bd038"/>
<rect x="331.30" y="143.93" width="7.2" height="77.47" fill="#ff7e20"/>
<path d="M325.50 138.90V148.97M323.50 138.90H327.50M323.50 148.97H327.50" stroke="#555555" stroke-width="0.8" fill="none"/>
<path d="M334.90 128.98V158.88M332.90 128.98H336.90M332.90 158.88H336.90" stroke="#555555" stroke-width="0.8" fill="none"/>
<rect x="354.95" y="136.26" width="7.2" height="85.14" fill="#6bd038"/>
<rect x="364.35" y="148.19" width="7.2" height="73.21" fill="#ff7e20"/>
<path d="M358.55 133.17V139.36M356.55 133.17H360.55M356.55 139.36H360.55" stroke="#555555" stroke-width="0.8" fill="none"/>
<path d="M367.95 145.87V150.52M365.95 145.87H369.95M365.95 150.52H369.95" stroke="#555555" stroke-width="0.8" fill="none"/>
<rect x="388.00" y="135.10" width="7.2" height="86.30" fill="#6bd038"/>
<rect x="397.40" y="149.36" width="7.2" height="72.04" fill="#ff7e20"/>
<path d="M391.60 131.23V138.98M389.60 131.23H393.60M389.60 138.98H393.60" stroke="#555555" stroke-width="0.8" fill="none"/>
<path d="M401.00 145.79V152.92M399.00 145.79H403.00M399.00 152.92H403.00" stroke="#555555" stroke-width="0.8" fill="none"/>
<rect x="421.05" y="134.33" width="7.2" height="87.07" fill="#6bd038"/>
<rect x="430.45" y="146.80" width="7.2" height="74.60" fill="#ff7e20"/>
<path d="M424.65 125.11V143.55M422.65 125.11H426.65M422.65 143.55H426.65" stroke="#555555" stroke-width="0.8" fill="none"/>
<path d="M434.05 144.79V148.81M432.05 144.79H436.05M432.05 148.81H436.05" stroke="#555555" stroke-width="0.8" fill="none"/>
<rect x="454.10" y="142.93" width="7.2" height="78.47" fill="#6bd038"/>
<rect x="463.50" y="147.26" width="7.2" height="74.14" fill="#ff7e20"/>
<path d="M457.70 139.60V146.26M455.70 139.60H459.70M455.70 146.26H459.70" stroke="#555555" stroke-width="0.8" fill="none"/>
<path d="M467.10 145.10V149.43M465.10 145.10H469.10M465.10 149.43H469.10" stroke="#555555" stroke-width="0.8" fill="none"/>
<rect x="487.15" y="146.26" width="7.2" height="75.14" fill="#6bd038"/>
<rect x="496.55" y="148.19" width="7.2" height="73.21" fill="#ff7e20"/>
<path d="M490.75 142.38V150.13M488.75 142.38H492.75M488.75 150.13H492.75" stroke="#555555" stroke-width="0.8" fill="none"/>
<path d="M500.15 144.86V151.53M498.15 144.86H502.15M498.15 151.53H502.15" stroke="#555555" stroke-width="0.8" fill="none"/>
<rect x="520.20" y="155.09" width="7.2" height="66.31" fill="#6bd038"/>
<rect x="529.60" y="147.26" width="7.2" height="74.14" fill="#ff7e20"/>
<path d="M523.80 150.83V159.35M521.80 150.83H525.80M521.80 159.35H525.80" stroke="#555555" stroke-width="0.8" fill="none"/>
<path d="M533.20 146.64V147.88M531.20 146.64H535.20M531.20 147.88H535.20" stroke="#555555" stroke-width="0.8" fill="none"/>
<text x="329.9" y="238.4" font-size="8.9" font-weight="bold" text-anchor="middle" fill="#000000" stroke="#000000" stroke-width="0.25" textLength="13.8" lengthAdjust="spacingAndGlyphs">ctrl</text>
<text x="362.7" y="238.4" font-size="8.9" font-weight="bold" text-anchor="middle" fill="#000000" stroke="#000000" stroke-width="0.25" textLength="9.8" lengthAdjust="spacingAndGlyphs">10</text>
<text x="396.0" y="238.4" font-size="8.9" font-weight="bold" text-anchor="middle" fill="#000000" stroke="#000000" stroke-width="0.25" textLength="9.8" lengthAdjust="spacingAndGlyphs">15</text>
<text x="429.6" y="238.4" font-size="8.9" font-weight="bold" text-anchor="middle" fill="#000000" stroke="#000000" stroke-width="0.25" textLength="9.8" lengthAdjust="spacingAndGlyphs">20</text>
<text x="462.2" y="238.4" font-size="8.9" font-weight="bold" text-anchor="middle" fill="#000000" stroke="#000000" stroke-width="0.25" textLength="9.8" lengthAdjust="spacingAndGlyphs">25</text>
<text x="495.3" y="238.4" font-size="8.9" font-weight="bold" text-anchor="middle" fill="#000000" stroke="#000000" stroke-width="0.25" textLength="9.8" lengthAdjust="spacingAndGlyphs">30</text>
<text x="528.4" y="238.4" font-size="8.9" font-weight="bold" text-anchor="middle" fill="#000000" stroke="#000000" stroke-width="0.25" textLength="9.8" lengthAdjust="spacingAndGlyphs">40</text>
<text x="377.8" y="95.3" font-size="15.6" font-weight="bold" text-anchor="start" fill="#000000" stroke="#000000" stroke-width="0.25" textLength="71" lengthAdjust="spacingAndGlyphs">Magnolol</text>
<text transform="translate(286.8 163.5) rotate(-90)" font-size="9.6" font-weight="bold" text-anchor="middle" stroke="#000" stroke-width="0.2" textLength="43.7" lengthAdjust="spacingAndGlyphs">% control</text>
<rect x="354.3" y="248.2" width="5.6" height="6" fill="#6bd038"/>
<text x="362.7" y="254.3" font-size="10.2" font-weight="normal" text-anchor="start" fill="#3a3a3a" stroke="#3a3a3a" stroke-width="0.15" textLength="48.5" lengthAdjust="spacingAndGlyphs">viable cells</text>
<rect x="424.5" y="248.2" width="5.8" height="6.1" fill="#ff7e20"/>
<text x="433.4" y="254.3" font-size="10.2" font-weight="normal" text-anchor="start" fill="#3a3a3a" stroke="#3a3a3a" stroke-width="0.15" textLength="44.5" lengthAdjust="spacingAndGlyphs">dead cells</text>
<text x="520.7" y="251.6" font-size="10.0" font-weight="normal" text-anchor="start" fill="#3a3a3a" stroke="#3a3a3a" stroke-width="0.15" textLength="21.2" lengthAdjust="spacingAndGlyphs">[µM]</text>
<line x1="39.5" y1="503.60" x2="271.0" y2="503.60" stroke="#dcdcdc" stroke-width="0.8"/>
<text x="31.8" y="506.90" font-size="8.6" font-weight="bold" text-anchor="end" fill="#000000" stroke="#000000" stroke-width="0.25" textLength="3.9" lengthAdjust="spacingAndGlyphs">0</text>
<line x1="39.5" y1="484.78" x2="271.0" y2="484.78" stroke="#dcdcdc" stroke-width="0.8"/>
<text x="31.8" y="488.08" font-size="8.6" font-weight="bold" text-anchor="end" fill="#000000" stroke="#000000" stroke-width="0.25" textLength="8.6" lengthAdjust="spacingAndGlyphs">25</text>
<line x1="39.5" y1="465.97" x2="271.0" y2="465.97" stroke="#dcdcdc" stroke-width="0.8"/>
<text x="31.8" y="469.27" font-size="8.6" font-weight="bold" text-anchor="end" fill="#000000" stroke="#000000" stroke-width="0.25" textLength="8.6" lengthAdjust="spacingAndGlyphs">50</text>
<line x1="39.5" y1="447.15" x2="271.0" y2="447.15" stroke="#dcdcdc" stroke-width="0.8"/>
<text x="31.8" y="450.45" font-size="8.6" font-weight="bold" text-anchor="end" fill="#000000" stroke="#000000" stroke-width="0.25" textLength="8.6" lengthAdjust="spacingAndGlyphs">75</text>
<line x1="39.5" y1="428.33" x2="271.0" y2="428.33" stroke="#dcdcdc" stroke-width="0.8"/>
<text x="31.8" y="431.63" font-size="8.6" font-weight="bold" text-anchor="end" fill="#000000" stroke="#000000" stroke-width="0.25" textLength="13.2" lengthAdjust="spacingAndGlyphs">100</text>
<line x1="39.5" y1="409.52" x2="271.0" y2="409.52" stroke="#dcdcdc" stroke-width="0.8"/>
<text x="31.8" y="412.82" font-size="8.6" font-weight="bold" text-anchor="end" fill="#000000" stroke="#000000" stroke-width="0.25" textLength="13.2" lengthAdjust="spacingAndGlyphs">125</text>
<line x1="39.5" y1="390.70" x2="271.0" y2="390.70" stroke="#dcdcdc" stroke-width="0.8"/>
<text x="31.8" y="394.00" font-size="8.6" font-weight="bold" text-anchor="end" fill="#000000" stroke="#000000" stroke-width="0.25" textLength="13.2" lengthAdjust="spacingAndGlyphs">150</text>
<line x1="39.5" y1="390.7" x2="39.5" y2="503.6" stroke="#dcdcdc" stroke-width="0.8"/>
<line x1="271.0" y1="390.7" x2="271.0" y2="503.6" stroke="#dcdcdc" stroke-width="0.8"/>
<rect x="47.90" y="428.33" width="7.2" height="75.27" fill="#6bd038"/>
<rect x="57.30" y="428.33" width="7.2" height="75.27" fill="#ff7e20"/>
<path d="M51.50 412.53V444.14M49.50 412.53H53.50M49.50 444.14H53.50" stroke="#555555" stroke-width="0.8" fill="none"/>
<path d="M60.90 421.18V435.48M58.90 421.18H62.90M58.90 435.48H62.90" stroke="#555555" stroke-width="0.8" fill="none"/>
<rect x="80.93" y="429.61" width="7.2" height="73.99" fill="#6bd038"/>
<rect x="90.33" y="428.33" width="7.2" height="75.27" fill="#ff7e20"/>
<path d="M84.53 427.20V432.02M82.53 427.20H86.53M82.53 432.02H86.53" stroke="#555555" stroke-width="0.8" fill="none"/>
<path d="M93.93 420.58V436.09M91.93 420.58H95.93M91.93 436.09H95.93" stroke="#555555" stroke-width="0.8" fill="none"/>
<rect x="113.96" y="432.70" width="7.2" height="70.90" fill="#6bd038"/>
<rect x="123.36" y="427.96" width="7.2" height="75.64" fill="#ff7e20"/>
<path d="M117.56 429.99V435.41M115.56 429.99H119.56M115.56 435.41H119.56" stroke="#555555" stroke-width="0.8" fill="none"/>
<path d="M126.96 424.34V431.57M124.96 424.34H128.96M124.96 431.57H128.96" stroke="#555555" stroke-width="0.8" fill="none"/>
<rect x="146.99" y="440.83" width="7.2" height="62.77" fill="#6bd038"/>
<rect x="156.39" y="424.80" width="7.2" height="78.80" fill="#ff7e20"/>
<path d="M150.59 434.66V447.00M148.59 434.66H152.59M148.59 447.00H152.59" stroke="#555555" stroke-width="0.8" fill="none"/>
<path d="M159.99 423.82V425.77M157.99 423.82H161.99M157.99 425.77H161.99" stroke="#555555" stroke-width="0.8" fill="none"/>
<rect x="180.02" y="447.98" width="7.2" height="55.62" fill="#6bd038"/>
<rect x="189.42" y="422.01" width="7.2" height="81.59" fill="#ff7e20"/>
<path d="M183.62 446.55V449.41M181.62 446.55H185.62M181.62 449.41H185.62" stroke="#555555" stroke-width="0.8" fill="none"/>
<path d="M193.02 418.40V425.62M191.02 418.40H195.02M191.02 425.62H195.02" stroke="#555555" stroke-width="0.8" fill="none"/>
<rect x="213.05" y="447.30" width="7.2" height="56.30" fill="#6bd038"/>
<rect x="222.45" y="421.48" width="7.2" height="82.12" fill="#ff7e20"/>
<path d="M216.65 446.55V448.05M214.65 446.55H218.65M214.65 448.05H218.65" stroke="#555555" stroke-width="0.8" fill="none"/>
<path d="M226.05 418.77V424.19M224.05 418.77H228.05M224.05 424.19H228.05" stroke="#555555" stroke-width="0.8" fill="none"/>
<rect x="246.08" y="456.11" width="7.2" height="47.49" fill="#6bd038"/>
<rect x="255.48" y="421.48" width="7.2" height="82.12" fill="#ff7e20"/>
<path d="M249.68 453.10V459.12M247.68 453.10H251.68M247.68 459.12H251.68" stroke="#555555" stroke-width="0.8" fill="none"/>
<path d="M259.08 418.17V424.80M257.08 418.17H261.08M257.08 424.80H261.08" stroke="#555555" stroke-width="0.8" fill="none"/>
<text x="56.1" y="521.0" font-size="8.9" font-weight="bold" text-anchor="middle" fill="#000000" stroke="#000000" stroke-width="0.25" textLength="13.8" lengthAdjust="spacingAndGlyphs">ctrl</text>
<text x="89.1" y="521.0" font-size="8.9" font-weight="bold" text-anchor="middle" fill="#000000" stroke="#000000" stroke-width="0.25" textLength="9.8" lengthAdjust="spacingAndGlyphs">10</text>
<text x="122.2" y="521.0" font-size="8.9" font-weight="bold" text-anchor="middle" fill="#000000" stroke="#000000" stroke-width="0.25" textLength="9.8" lengthAdjust="spacingAndGlyphs">15</text>
<text x="155.5" y="521.0" font-size="8.9" font-weight="bold" text-anchor="middle" fill="#000000" stroke="#000000" stroke-width="0.25" textLength="9.8" lengthAdjust="spacingAndGlyphs">20</text>
<text x="188.3" y="521.0" font-size="8.9" font-weight="bold" text-anchor="middle" fill="#000000" stroke="#000000" stroke-width="0.25" textLength="9.8" lengthAdjust="spacingAndGlyphs">25</text>
<text x="221.4" y="521.0" font-size="8.9" font-weight="bold" text-anchor="middle" fill="#000000" stroke="#000000" stroke-width="0.25" textLength="9.8" lengthAdjust="spacingAndGlyphs">30</text>
<text x="253.8" y="521.0" font-size="8.9" font-weight="bold" text-anchor="middle" fill="#000000" stroke="#000000" stroke-width="0.25" textLength="9.8" lengthAdjust="spacingAndGlyphs">40</text>
<text x="103.2" y="376.6" font-size="15.6" font-weight="bold" text-anchor="start" fill="#000000" stroke="#000000" stroke-width="0.25" textLength="67" lengthAdjust="spacingAndGlyphs">Honokiol</text>
<text transform="translate(13.4 447.6) rotate(-90)" font-size="9.6" font-weight="bold" text-anchor="middle" stroke="#000" stroke-width="0.2" textLength="43.7" lengthAdjust="spacingAndGlyphs">% control</text>
<rect x="77.1" y="531.9" width="5.6" height="6" fill="#6bd038"/>
<text x="85.3" y="537.8" font-size="10.2" font-weight="normal" text-anchor="start" fill="#3a3a3a" stroke="#3a3a3a" stroke-width="0.15" textLength="48.5" lengthAdjust="spacingAndGlyphs">viable cells</text>
<rect x="147.0" y="532.0" width="5.8" height="6.1" fill="#ff7e20"/>
<text x="155.9" y="538.0" font-size="10.2" font-weight="normal" text-anchor="start" fill="#3a3a3a" stroke="#3a3a3a" stroke-width="0.15" textLength="44.5" lengthAdjust="spacingAndGlyphs">dead cells</text>
<text x="243.2" y="535.6" font-size="10.0" font-weight="normal" text-anchor="start" fill="#3a3a3a" stroke="#3a3a3a" stroke-width="0.15" textLength="22.3" lengthAdjust="spacingAndGlyphs">[µM]</text>
<line x1="316.2" y1="502.60" x2="545.7" y2="502.60" stroke="#dcdcdc" stroke-width="0.8"/>
<text x="307.9" y="505.90" font-size="8.6" font-weight="bold" text-anchor="end" fill="#000000" stroke="#000000" stroke-width="0.25" textLength="3.9" lengthAdjust="spacingAndGlyphs">0</text>
<line x1="316.2" y1="483.87" x2="545.7" y2="483.87" stroke="#dcdcdc" stroke-width="0.8"/>
<text x="307.9" y="487.17" font-size="8.6" font-weight="bold" text-anchor="end" fill="#000000" stroke="#000000" stroke-width="0.25" textLength="8.6" lengthAdjust="spacingAndGlyphs">25</text>
<line x1="316.2" y1="465.13" x2="545.7" y2="465.13" stroke="#dcdcdc" stroke-width="0.8"/>
<text x="307.9" y="468.43" font-size="8.6" font-weight="bold" text-anchor="end" fill="#000000" stroke="#000000" stroke-width="0.25" textLength="8.6" lengthAdjust="spacingAndGlyphs">50</text>
<line x1="316.2" y1="446.40" x2="545.7" y2="446.40" stroke="#dcdcdc" stroke-width="0.8"/>
<text x="307.9" y="449.70" font-size="8.6" font-weight="bold" text-anchor="end" fill="#000000" stroke="#000000" stroke-width="0.25" textLength="8.6" lengthAdjust="spacingAndGlyphs">75</text>
<line x1="316.2" y1="427.67" x2="545.7" y2="427.67" stroke="#dcdcdc" stroke-width="0.8"/>
<text x="307.9" y="430.97" font-size="8.6" font-weight="bold" text-anchor="end" fill="#000000" stroke="#000000" stroke-width="0.25" textLength="13.2" lengthAdjust="spacingAndGlyphs">100</text>
<line x1="316.2" y1="408.93" x2="545.7" y2="408.93" stroke="#dcdcdc" stroke-width="0.8"/>
<text x="307.9" y="412.23" font-size="8.6" font-weight="bold" text-anchor="end" fill="#000000" stroke="#000000" stroke-width="0.25" textLength="13.2" lengthAdjust="spacingAndGlyphs">125</text>
<line x1="316.2" y1="390.20" x2="545.7" y2="390.20" stroke="#dcdcdc" stroke-width="0.8"/>
<text x="307.9" y="393.50" font-size="8.6" font-weight="bold" text-anchor="end" fill="#000000" stroke="#000000" stroke-width="0.25" textLength="13.2" lengthAdjust="spacingAndGlyphs">150</text>
<line x1="316.2" y1="390.2" x2="316.2" y2="502.6" stroke="#dcdcdc" stroke-width="0.8"/>
<line x1="545.7" y1="390.2" x2="545.7" y2="502.6" stroke="#dcdcdc" stroke-width="0.8"/>
<rect x="324.30" y="427.67" width="7.2" height="74.93" fill="#6bd038"/>
<rect x="333.70" y="427.67" width="7.2" height="74.93" fill="#ff7e20"/>
<path d="M327.90 411.93V443.40M325.90 411.93H329.90M325.90 443.40H329.90" stroke="#555555" stroke-width="0.8" fill="none"/>
<path d="M337.30 420.55V434.79M335.30 420.55H339.30M335.30 434.79H339.30" stroke="#555555" stroke-width="0.8" fill="none"/>
<rect x="357.03" y="409.08" width="7.2" height="93.52" fill="#6bd038"/>
<rect x="366.43" y="430.06" width="7.2" height="72.54" fill="#ff7e20"/>
<path d="M360.63 404.81V413.35M358.63 404.81H362.63M358.63 413.35H362.63" stroke="#555555" stroke-width="0.8" fill="none"/>
<path d="M370.03 425.64V434.49M368.03 425.64H372.03M368.03 434.49H372.03" stroke="#555555" stroke-width="0.8" fill="none"/>
<rect x="389.76" y="412.90" width="7.2" height="89.70" fill="#6bd038"/>
<rect x="399.16" y="427.67" width="7.2" height="74.93" fill="#ff7e20"/>
<path d="M393.36 407.81V418.00M391.36 407.81H395.36M391.36 418.00H395.36" stroke="#555555" stroke-width="0.8" fill="none"/>
<path d="M402.76 424.07V431.26M400.76 424.07H404.76M400.76 431.26H404.76" stroke="#555555" stroke-width="0.8" fill="none"/>
<rect x="422.49" y="414.18" width="7.2" height="88.42" fill="#6bd038"/>
<rect x="431.89" y="429.84" width="7.2" height="72.76" fill="#ff7e20"/>
<path d="M426.09 406.76V421.60M424.09 406.76H428.09M424.09 421.60H428.09" stroke="#555555" stroke-width="0.8" fill="none"/>
<path d="M435.49 424.37V435.31M433.49 424.37H437.49M433.49 435.31H437.49" stroke="#555555" stroke-width="0.8" fill="none"/>
<rect x="455.22" y="422.50" width="7.2" height="80.10" fill="#6bd038"/>
<rect x="464.62" y="430.81" width="7.2" height="71.79" fill="#ff7e20"/>
<path d="M458.82 414.78V430.21M456.82 414.78H460.82M456.82 430.21H460.82" stroke="#555555" stroke-width="0.8" fill="none"/>
<path d="M468.22 426.99V434.64M466.22 426.99H470.22M466.22 434.64H470.22" stroke="#555555" stroke-width="0.8" fill="none"/>
<rect x="487.95" y="424.37" width="7.2" height="78.23" fill="#6bd038"/>
<rect x="497.35" y="430.81" width="7.2" height="71.79" fill="#ff7e20"/>
<path d="M491.55 418.08V430.66M489.55 418.08H493.55M489.55 430.66H493.55" stroke="#555555" stroke-width="0.8" fill="none"/>
<path d="M500.95 427.22V434.41M498.95 427.22H502.95M498.95 434.41H502.95" stroke="#555555" stroke-width="0.8" fill="none"/>
<rect x="520.68" y="432.01" width="7.2" height="70.59" fill="#6bd038"/>
<rect x="530.08" y="432.01" width="7.2" height="70.59" fill="#ff7e20"/>
<path d="M524.28 427.52V436.51M522.28 427.52H526.28M522.28 436.51H526.28" stroke="#555555" stroke-width="0.8" fill="none"/>
<path d="M533.68 431.64V432.39M531.68 431.64H535.68M531.68 432.39H535.68" stroke="#555555" stroke-width="0.8" fill="none"/>
<text x="332.5" y="520.5" font-size="8.9" font-weight="bold" text-anchor="middle" fill="#000000" stroke="#000000" stroke-width="0.25" textLength="13.8" lengthAdjust="spacingAndGlyphs">ctrl</text>
<text x="365.3" y="520.5" font-size="8.9" font-weight="bold" text-anchor="middle" fill="#000000" stroke="#000000" stroke-width="0.25" textLength="9.8" lengthAdjust="spacingAndGlyphs">10</text>
<text x="398.4" y="520.5" font-size="8.9" font-weight="bold" text-anchor="middle" fill="#000000" stroke="#000000" stroke-width="0.25" textLength="9.8" lengthAdjust="spacingAndGlyphs">15</text>
<text x="430.7" y="520.5" font-size="8.9" font-weight="bold" text-anchor="middle" fill="#000000" stroke="#000000" stroke-width="0.25" textLength="9.8" lengthAdjust="spacingAndGlyphs">20</text>
<text x="463.5" y="520.5" font-size="8.9" font-weight="bold" text-anchor="middle" fill="#000000" stroke="#000000" stroke-width="0.25" textLength="9.8" lengthAdjust="spacingAndGlyphs">25</text>
<text x="496.3" y="520.5" font-size="8.9" font-weight="bold" text-anchor="middle" fill="#000000" stroke="#000000" stroke-width="0.25" textLength="9.8" lengthAdjust="spacingAndGlyphs">30</text>
<text x="528.9" y="520.5" font-size="8.9" font-weight="bold" text-anchor="middle" fill="#000000" stroke="#000000" stroke-width="0.25" textLength="9.8" lengthAdjust="spacingAndGlyphs">40</text>
<text x="378.0" y="379.0" font-size="15.6" font-weight="bold" text-anchor="start" fill="#000000" stroke="#000000" stroke-width="0.25" textLength="71" lengthAdjust="spacingAndGlyphs">Magnolol</text>
<text transform="translate(288.4 447.3) rotate(-90)" font-size="9.6" font-weight="bold" text-anchor="middle" stroke="#000" stroke-width="0.2" textLength="43.7" lengthAdjust="spacingAndGlyphs">% control</text>
<rect x="354.3" y="532.4" width="5.6" height="6" fill="#6bd038"/>
<text x="362.7" y="538.3" font-size="10.2" font-weight="normal" text-anchor="start" fill="#3a3a3a" stroke="#3a3a3a" stroke-width="0.15" textLength="48.5" lengthAdjust="spacingAndGlyphs">viable cells</text>
<rect x="424.5" y="532.4" width="5.8" height="6.1" fill="#ff7e20"/>
<text x="433.4" y="538.3" font-size="10.2" font-weight="normal" text-anchor="start" fill="#3a3a3a" stroke="#3a3a3a" stroke-width="0.15" textLength="44.5" lengthAdjust="spacingAndGlyphs">dead cells</text>
<text x="518.7" y="535.5" font-size="10.0" font-weight="normal" text-anchor="start" fill="#3a3a3a" stroke="#3a3a3a" stroke-width="0.15" textLength="21.6" lengthAdjust="spacingAndGlyphs">[µM]</text>
</svg></body></html>
